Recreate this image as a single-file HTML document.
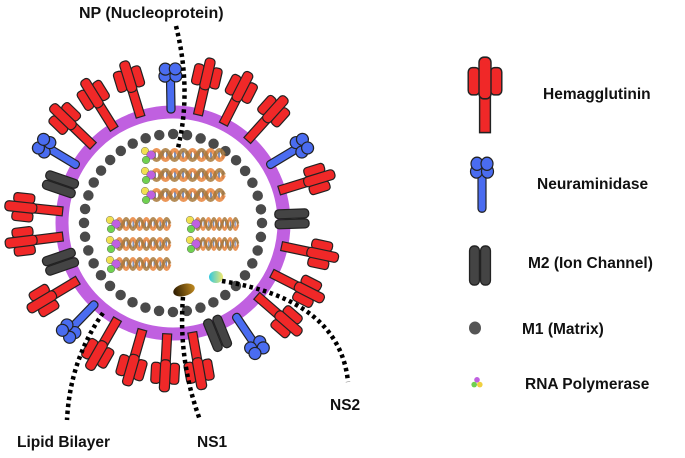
<!DOCTYPE html>
<html><head><meta charset="utf-8"><style>
html,body{margin:0;padding:0;background:#fff;width:685px;height:458px;overflow:hidden}
text{font-family:"Liberation Sans",sans-serif;font-weight:bold;fill:#111}
</style></head><body>
<svg width="685" height="458" viewBox="0 0 685 458" xmlns="http://www.w3.org/2000/svg">
<defs>
<g id="ha" stroke="#222" stroke-width="1.2" fill="#f02828">
<rect x="-4.5" y="-26" width="9" height="28" />
<rect x="-14" y="-48" width="9.5" height="21" rx="3.5"/>
<rect x="4.5" y="-48" width="9.5" height="21" rx="3.5"/>
<rect x="-5" y="-56" width="10" height="32" rx="4"/>
</g>
<g id="na" stroke="#222" stroke-width="1.2" fill="#4a6cf0">
<rect x="-4" y="-32" width="8" height="34" rx="3.5"/>
<circle cx="-5.5" cy="-35" r="6"/><circle cx="5.5" cy="-35" r="6"/>
<circle cx="-5" cy="-42" r="6"/><circle cx="5" cy="-42" r="6"/>
</g>
<g id="m2" stroke="#222" stroke-width="1.2" fill="#444">
<rect x="-9.5" y="-40" width="9" height="34" rx="4"/>
<rect x="0.5" y="-40" width="9" height="34" rx="4"/>
</g>
<g id="helix">
<path d="M2 0 h70" stroke="#8090b8" stroke-width="8" stroke-dasharray="2 2"/>
<path d="M0 0 q4.5 -10 9 0 t9 0 t9 0 t9 0 t9 0 t9 0 t9 0 t9 0" fill="none" stroke="#e8843a" stroke-width="4" opacity="0.85"/>
<path d="M0 0 q4.5 10 9 0 t9 0 t9 0 t9 0 t9 0 t9 0 t9 0 t9 0" fill="none" stroke="#a8783a" stroke-width="4" opacity="0.85"/>
</g>
<g id="pol">
<circle cx="-4" cy="-4" r="3.8" fill="#f0e050" stroke="#555" stroke-width="0.4"/>
<circle cx="2" cy="0" r="4.3" fill="#c060e0" stroke="#555" stroke-width="0.4"/>
<circle cx="-3" cy="5" r="3.8" fill="#70d050" stroke="#555" stroke-width="0.4"/>
</g>
</defs>

<circle cx="173" cy="223" r="111" fill="none" stroke="#c060e0" stroke-width="13"/>
<g transform="translate(173,223)">
<g transform="rotate(-17)"><use href="#ha" transform="translate(0,-113)"/></g>
<g transform="rotate(-32)"><use href="#ha" transform="translate(0,-113)"/></g>
<g transform="rotate(-46)"><use href="#ha" transform="translate(0,-113)"/></g>
<g transform="rotate(-59)"><use href="#na" transform="translate(0,-112)"/></g>
<g transform="rotate(-71)"><use href="#m2" transform="translate(0,-96)"/></g>
<g transform="rotate(-84)"><use href="#ha" transform="translate(0,-113)"/></g>
<g transform="rotate(-97)"><use href="#ha" transform="translate(0,-113)"/></g>
<g transform="rotate(-109)"><use href="#m2" transform="translate(0,-96)"/></g>
<g transform="rotate(-121)"><use href="#ha" transform="translate(0,-113)"/></g>
<g transform="rotate(-136)"><use href="#na" transform="translate(0,-112)"/></g>
<g transform="rotate(-150)"><use href="#ha" transform="translate(0,-113)"/></g>
<g transform="rotate(-164)"><use href="#ha" transform="translate(0,-113)"/></g>
<g transform="rotate(-177)"><use href="#ha" transform="translate(0,-113)"/></g>
<g transform="rotate(170)"><use href="#ha" transform="translate(0,-113)"/></g>
<g transform="rotate(158)"><use href="#m2" transform="translate(0,-96)"/></g>
<g transform="rotate(146)"><use href="#na" transform="translate(0,-112)"/></g>
<g transform="rotate(131)"><use href="#ha" transform="translate(0,-113)"/></g>
<g transform="rotate(117)"><use href="#ha" transform="translate(0,-113)"/></g>
<g transform="rotate(102)"><use href="#ha" transform="translate(0,-113)"/></g>
<g transform="rotate(88)"><use href="#m2" transform="translate(0,-96)"/></g>
<g transform="rotate(73)"><use href="#ha" transform="translate(0,-113)"/></g>
<g transform="rotate(59)"><use href="#na" transform="translate(0,-112)"/></g>
<g transform="rotate(42)"><use href="#ha" transform="translate(0,-113)"/></g>
<g transform="rotate(27)"><use href="#ha" transform="translate(0,-113)"/></g>
<g transform="rotate(13)"><use href="#ha" transform="translate(0,-113)"/></g>
<g transform="rotate(-1)"><use href="#na" transform="translate(0,-112)"/></g>
</g>
<circle cx="173" cy="223" r="89" fill="none" stroke="#4a4a4a" stroke-width="10.5" stroke-linecap="round" stroke-dasharray="0 13.98"/>

<use href="#helix" transform="translate(152,155)"/>
<use href="#helix" transform="translate(152,175)"/>
<use href="#helix" transform="translate(152,195)"/>
<use href="#helix" transform="translate(116,224) scale(0.75,1)"/>
<use href="#helix" transform="translate(116,244) scale(0.75,1)"/>
<use href="#helix" transform="translate(116,264) scale(0.75,1)"/>
<use href="#helix" transform="translate(195,224) scale(0.6,1)"/>
<use href="#helix" transform="translate(195,244) scale(0.6,1)"/>
<use href="#pol" transform="translate(149,155)"/>
<use href="#pol" transform="translate(149,175)"/>
<use href="#pol" transform="translate(149,195)"/>
<use href="#pol" transform="translate(114,224)"/>
<use href="#pol" transform="translate(114,244)"/>
<use href="#pol" transform="translate(114,264)"/>
<use href="#pol" transform="translate(194,224)"/>
<use href="#pol" transform="translate(194,244)"/>

<defs>
<linearGradient id="g1" x1="0" x2="1"><stop offset="0" stop-color="#2a1a00"/><stop offset="1" stop-color="#c08a20"/></linearGradient>
<linearGradient id="g2" x1="0" x2="1"><stop offset="0" stop-color="#30c8e0"/><stop offset="1" stop-color="#f0e870"/></linearGradient>
</defs>
<ellipse cx="184" cy="290" rx="11" ry="6" fill="url(#g1)" transform="rotate(-15 184 290)"/>
<ellipse cx="216" cy="277" rx="7" ry="6" fill="url(#g2)"/>

<g fill="none" stroke="#000" stroke-width="4.5" stroke-dasharray="3.5 3.5">
<path d="M176 26 Q192 90 178 148"/>
<path d="M103 313 Q70 360 67 420"/>
<path d="M183 297 Q178 360 200 420"/>
<path d="M222 281 Q340 300 348 382"/>
</g>

<text x="79" y="18" font-size="16">NP (Nucleoprotein)</text>
<text x="17" y="447" font-size="15.5">Lipid Bilayer</text>
<text x="197" y="447" font-size="15.5">NS1</text>
<text x="330" y="410" font-size="15.5">NS2</text>

<use href="#ha" transform="translate(485,130) scale(1.2,1.3)"/>
<text x="543" y="99" font-size="15.5">Hemagglutinin</text>
<use href="#na" transform="translate(482,210) scale(1.0,1.1)"/>
<text x="537" y="189" font-size="15.5">Neuraminidase</text>
<use href="#m2" transform="translate(480,292) scale(1.1,1.15)"/>
<text x="528" y="268" font-size="15.5">M2 (Ion Channel)</text>
<ellipse cx="475" cy="328" rx="6" ry="6.5" fill="#555"/>
<text x="522" y="334" font-size="15.5">M1 (Matrix)</text>
<g transform="translate(477,383) scale(0.8)">
<circle cx="0" cy="-4" r="3.5" fill="#c060e0"/><circle cx="-3.5" cy="2" r="3.5" fill="#70d050"/><circle cx="3.5" cy="2" r="3.5" fill="#f0d040"/>
</g>
<text x="525" y="389" font-size="15.5">RNA Polymerase</text>
</svg>
</body></html>
